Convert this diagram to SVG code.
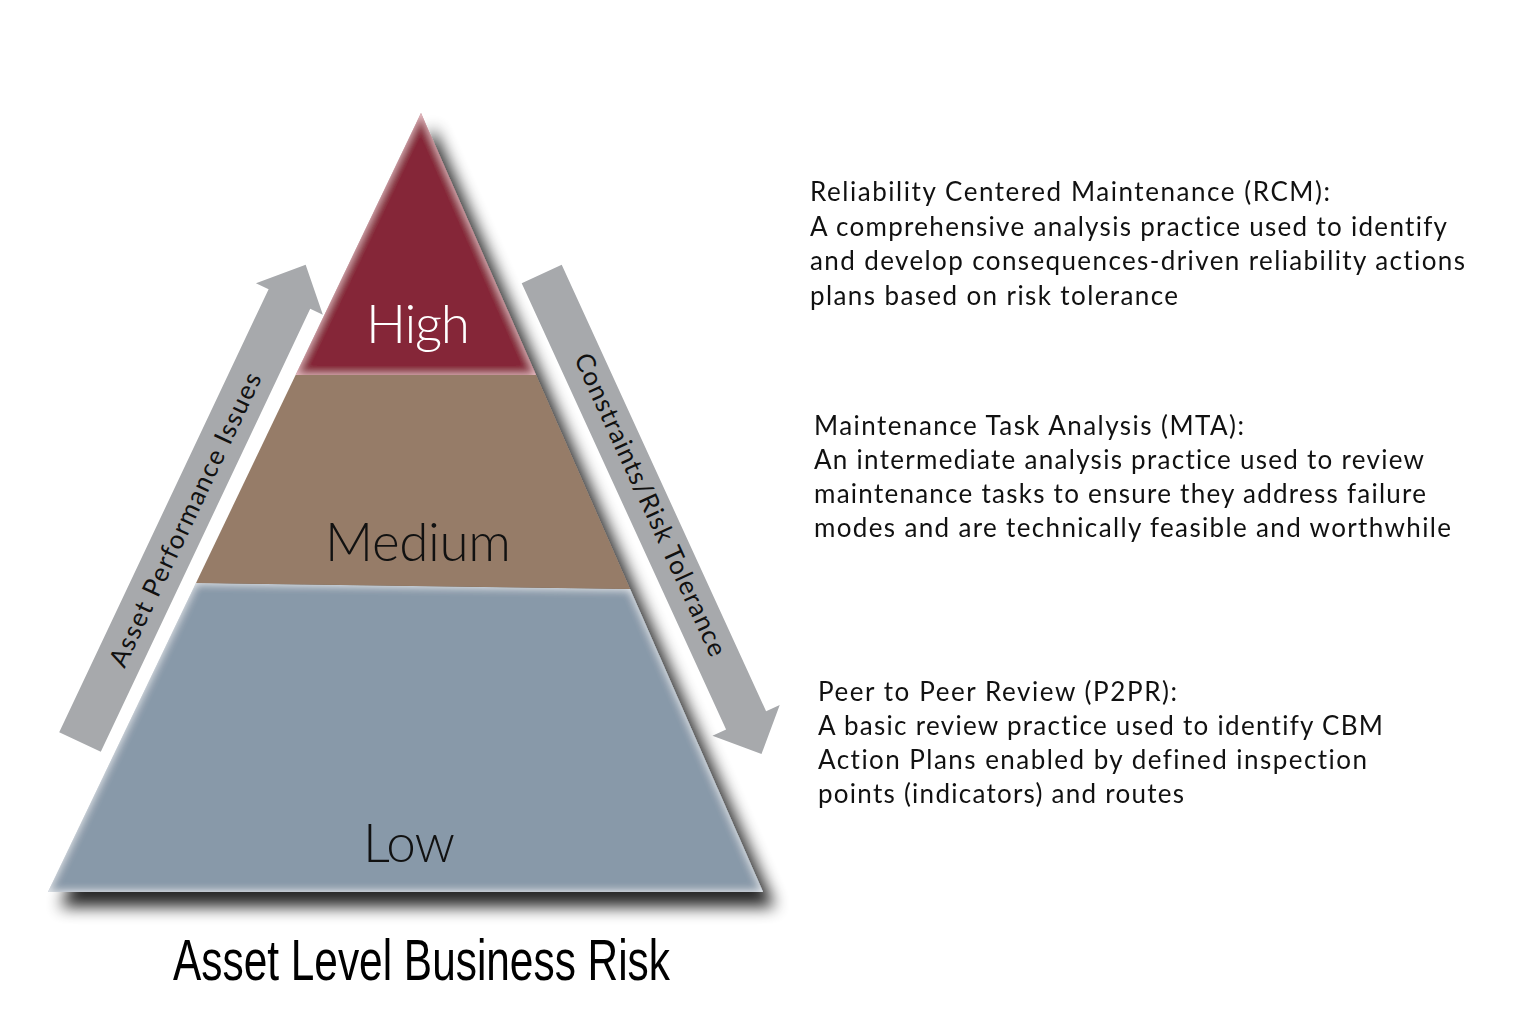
<svg xmlns="http://www.w3.org/2000/svg" width="1528" height="1012" viewBox="0 0 1528 1012">
  <defs>
    <style>
      text { font-variant-ligatures: none; }
      .body { font-family: Lato, "Noto Sans", "Liberation Sans", sans-serif; font-size: 26px; fill: #111; }
      .arrowlbl { font-family: Lato, "Noto Sans", "Liberation Sans", sans-serif; font-size: 26px; fill: #111; }
      .lvl { font-family: Lato, "Noto Sans", "Liberation Sans", sans-serif; font-size: 53px; font-weight: 300; text-anchor: middle; }
      .arrow { fill: #a7a9ac; }
      .title { font-family: "Liberation Sans", Arial, sans-serif; font-size: 58px; fill: #000; }
    </style>
    <filter id="shadow" x="-10%" y="-10%" width="130%" height="125%">
      <feGaussianBlur in="SourceAlpha" stdDeviation="8"/>
      <feOffset dx="12" dy="15"/>
      <feComponentTransfer><feFuncA type="linear" slope="0.85"/></feComponentTransfer>
      <feMerge><feMergeNode/><feMergeNode in="SourceGraphic"/></feMerge>
    </filter>
    <filter id="glowHigh" x="-10%" y="-10%" width="120%" height="120%">
      <feGaussianBlur in="SourceAlpha" stdDeviation="5" result="b"/>
      <feComponentTransfer in="b" result="inv"><feFuncA type="table" tableValues="1 0"/></feComponentTransfer>
      <feComposite in="inv" in2="SourceAlpha" operator="in" result="edge"/>
      <feFlood flood-color="#f3c9cf" flood-opacity="1"/>
      <feComposite in2="edge" operator="in" result="glow"/>
      <feMerge><feMergeNode in="SourceGraphic"/><feMergeNode in="glow"/></feMerge>
    </filter>
    <filter id="glowLow" x="-10%" y="-10%" width="120%" height="120%">
      <feGaussianBlur in="SourceAlpha" stdDeviation="5" result="b"/>
      <feComponentTransfer in="b" result="inv"><feFuncA type="table" tableValues="1 0"/></feComponentTransfer>
      <feComposite in="inv" in2="SourceAlpha" operator="in" result="edge"/>
      <feFlood flood-color="#eef1f4" flood-opacity="1"/>
      <feComposite in2="edge" operator="in" result="glow"/>
      <feMerge><feMergeNode in="SourceGraphic"/><feMergeNode in="glow"/></feMerge>
    </filter>
  </defs>

  <rect x="0" y="0" width="1528" height="1012" fill="#ffffff"/>

  <g id="connectors">
    <g id="arrow-performance" transform="translate(80,742) rotate(-64.7)">
      <path class="arrow" d="M0,-23 L490,-23 L490,-37 L528,0 L490,37 L490,23 L0,23 Z"/>
      <text class="arrowlbl" x="246" y="9" text-anchor="middle" textLength="322">Asset Performance Issues</text>
    </g>
    <g id="arrow-constraints" transform="translate(541.7,274) rotate(65.4)">
      <path class="arrow" d="M0,-22 L491,-22 L491,-37 L528,0 L491,37 L491,22 L0,22 Z"/>
      <text class="arrowlbl" x="255" y="6" text-anchor="middle" textLength="330">Constraints/Risk Tolerance</text>
    </g>
  </g>

  <g id="pyramid" filter="url(#shadow)">
    <g id="level-low">
      <polygon points="196,583 630,589 763,892 48,892" fill="#8899a9" filter="url(#glowLow)"/>
    </g>
    <g id="level-medium">
      <polygon points="295.6,375 536,375 630,589 196,583" fill="#967c67"/>
    </g>
    <g id="level-high">
      <polygon points="421,113 536,375 295.6,375" fill="#852538" filter="url(#glowHigh)"/>
    </g>
  </g>
  <text class="lvl" x="418" y="343" fill="#ffffff" textLength="104">High</text>
  <text class="lvl" x="418" y="561" fill="#111" textLength="186">Medium</text>
  <text class="lvl" x="409" y="862" fill="#111" textLength="92">Low</text>

  <g id="title">
    <text class="title" x="173" y="980" textLength="497" lengthAdjust="spacingAndGlyphs">Asset Level Business Risk</text>
  </g>

  <g id="desc-rcm">
    <text class="body" x="810" y="201" textLength="520">Reliability Centered Maintenance (RCM):</text>
    <text class="body" x="810" y="235.5" textLength="637">A comprehensive analysis practice used to identify</text>
    <text class="body" x="810" y="270" textLength="655">and develop consequences-driven reliability actions</text>
    <text class="body" x="810" y="304.5" textLength="368">plans based on risk tolerance</text>
  </g>
  <g id="desc-mta">
    <text class="body" x="814" y="434.5" textLength="430">Maintenance Task Analysis (MTA):</text>
    <text class="body" x="814" y="468.5" textLength="610">An intermediate analysis practice used to review</text>
    <text class="body" x="814" y="502.5" textLength="612">maintenance tasks to ensure they address failure</text>
    <text class="body" x="814" y="536.5" textLength="637">modes and are technically feasible and worthwhile</text>
  </g>
  <g id="desc-p2pr">
    <text class="body" x="818" y="700.5" textLength="359">Peer to Peer Review (P2PR):</text>
    <text class="body" x="818" y="734.5" textLength="565">A basic review practice used to identify CBM</text>
    <text class="body" x="818" y="768.5" textLength="549">Action Plans enabled by defined inspection</text>
    <text class="body" x="818" y="802.5" textLength="366">points (indicators) and routes</text>
  </g>
</svg>
